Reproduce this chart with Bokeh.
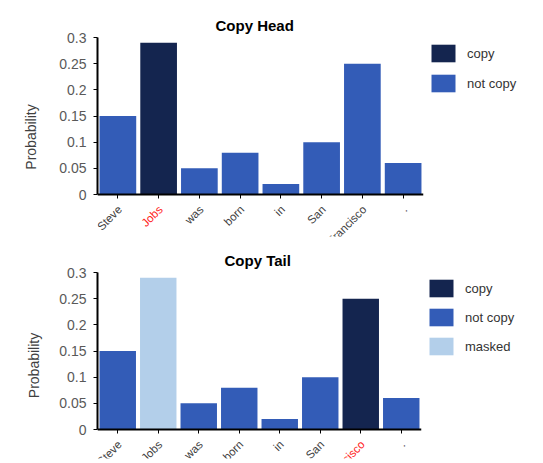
from math import pi
from bokeh.plotting import figure
from bokeh.models import (Range1d, FactorRange, FixedTicker, CustomJSTickFormatter,
                          Legend, LegendItem, ColumnDataSource, LabelSet,
                          CustomLabelingPolicy)
from bokeh.core.properties import value
from bokeh.layouts import column
from bokeh.embed import file_html
from bokeh.resources import INLINE

# ---- data ----
tokens = ["Steve", "Jobs", "was", "born", "in", "San", "Francisco", "."]
head_probs = [0.15, 0.29, 0.05, 0.08, 0.02, 0.10, 0.25, 0.06]
head_status = ["not copy", "copy", "not copy", "not copy", "not copy", "not copy", "not copy", "not copy"]
head_red_token = "Jobs"
tail_probs = [0.15, 0.29, 0.05, 0.08, 0.02, 0.10, 0.25, 0.06]
tail_status = ["not copy", "masked", "not copy", "not copy", "not copy", "not copy", "copy", "not copy"]
tail_red_token = "Francisco"
y_ticks = [0, 0.05, 0.1, 0.15, 0.2, 0.25, 0.3]
y_max = 0.3
head_legend = ["copy", "not copy"]
tail_legend = ["copy", "not copy", "masked"]

status_colors = {"copy": "#14254f", "not copy": "#335cb7", "masked": "#b3cfea"}
FONT = "Liberation Sans"
FIG_W = 540
PLOT_H_PX = 157      # pixel height of the 0..0.3 band
XPANEL_PX = 4        # bottom border (x-axis ticks)


def make_chart(title, probs, status, red_token, legend_order,
               fig_h, b_left, b_top, frame_w, legend_spacing, title_offset, ylabel_standoff):
    frame_h = fig_h - b_top - XPANEL_PX
    y_min = -y_max * (frame_h - PLOT_H_PX) / PLOT_H_PX
    p = figure(x_range=FactorRange(*tokens, range_padding=0),
               y_range=Range1d(y_min, y_max),
               frame_width=frame_w, frame_height=frame_h,
               min_border_left=b_left, min_border_top=b_top,
               min_border_right=FIG_W - b_left - frame_w, min_border_bottom=XPANEL_PX,
               output_backend="svg", toolbar_location=None, tools="")
    p.xgrid.visible = False
    p.ygrid.visible = False
    p.outline_line_color = None
    p.background_fill_color = "white"
    p.border_fill_color = "white"

    p.title.text = title
    p.title.align = "left"
    p.title.offset = title_offset
    p.title.standoff = 8
    p.title.text_font = FONT
    p.title.text_font_size = "15px"
    p.title.text_font_style = "bold"
    p.title.text_color = "black"

    renderers = {}
    for st in legend_order:
        xs = [t for t, s in zip(tokens, status) if s == st]
        ys = [v for v, s in zip(probs, status) if s == st]
        r = p.vbar(x=xs, top=ys, bottom=0, width=0.9,
                   fill_color=status_colors[st], line_color=None)
        renderers[st] = r

    legend = Legend(items=[LegendItem(label=st, renderers=[renderers[st]]) for st in legend_order],
                    location="top_left", glyph_width=30, glyph_height=22,
                    spacing=legend_spacing, padding=0, margin=5,
                    border_line_color=None, background_fill_alpha=0,
                    label_text_font=FONT, label_text_font_size="13px",
                    label_text_color="#333333", label_standoff=9)
    p.add_layout(legend, "right")

    # x axis: line + ticks at y = 0 (labels are drawn by the LabelSet below)
    xa = p.xaxis[0]
    xa.fixed_location = 0
    xa.axis_line_width = 2
    xa.axis_line_color = "black"
    xa.major_tick_out = 4
    xa.major_tick_in = 0
    xa.major_tick_line_color = "black"
    xa.major_label_standoff = 0
    xa.major_label_text_font_size = "0px"
    xa.major_label_policy = CustomLabelingPolicy(code="return []")

    # y axis
    ya = p.yaxis[0]
    ya.bounds = (0, y_max)
    ya.ticker = FixedTicker(ticks=y_ticks, minor_ticks=[])
    ya.formatter = CustomJSTickFormatter(code="return parseFloat(tick.toFixed(2)).toString();")
    ya.axis_line_width = 2
    ya.axis_line_color = "black"
    ya.major_tick_out = 4
    ya.major_tick_in = 0
    ya.minor_tick_out = 0
    ya.minor_tick_in = 0
    ya.major_label_text_font = FONT
    ya.major_label_text_font_size = "14px"
    ya.major_label_text_color = "#595959"
    ya.major_label_standoff = 7
    ya.axis_label = "Probability"
    ya.axis_label_text_font = FONT
    ya.axis_label_text_font_size = "14px"
    ya.axis_label_text_font_style = "normal"
    ya.axis_label_text_color = "#404040"
    ya.axis_label_standoff = ylabel_standoff

    colors = ["#ff2020" if t == red_token else "#404040" for t in tokens]
    src = ColumnDataSource(dict(x=tokens, y=[0] * len(tokens), text=tokens, color=colors))
    labels = LabelSet(x="x", y="y", text="text", source=src, angle=pi / 4,
                      text_align="right", text_baseline="middle", text_color="color",
                      text_font=value(FONT), text_font_size=value("11.5px"),
                      x_offset=2, y_offset=-13)
    p.add_layout(labels)
    return p


p1 = make_chart("Copy Head", head_probs, head_status, head_red_token, head_legend,
                240, 97, 37, 326, 8, 118, 17)
p2 = make_chart("Copy Tail", tail_probs, tail_status, tail_red_token, tail_legend,
                222, 97, 32, 324, 7, 127, 14)

layout = column(p1, p2, spacing=0)
open("out.html", "w").write(file_html(layout, INLINE))
